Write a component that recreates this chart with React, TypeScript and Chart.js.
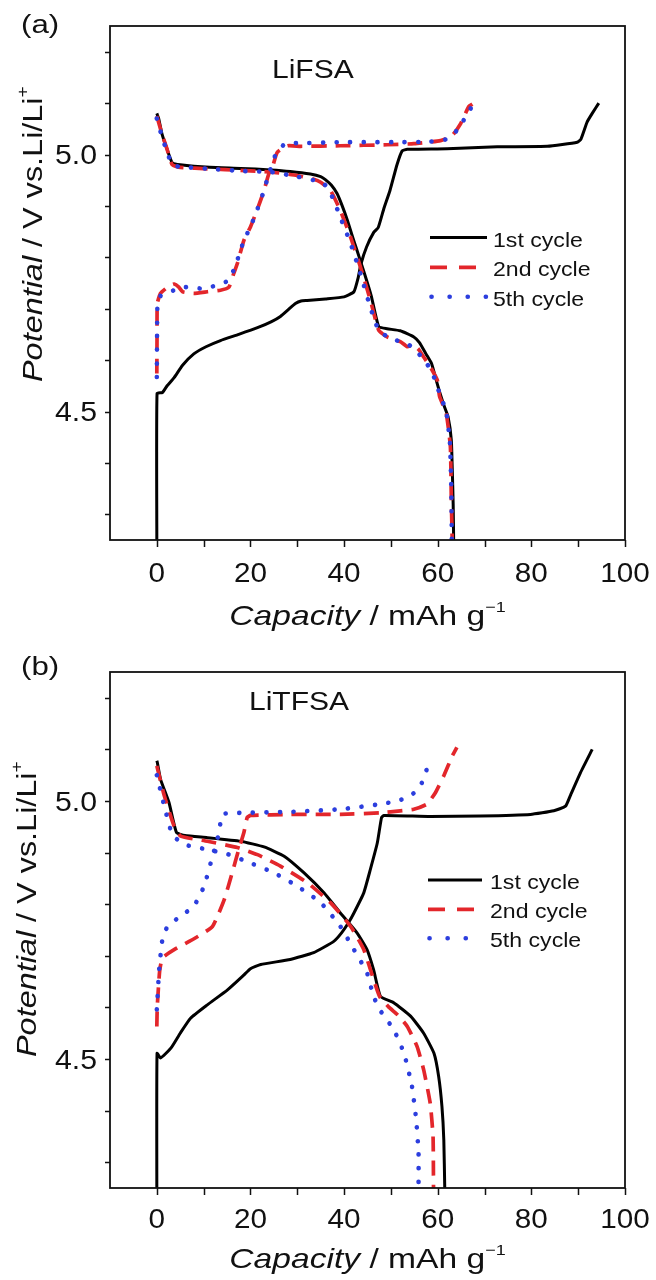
import React, { useEffect, useRef } from "react";
import { Chart, registerables } from "chart.js";

Chart.register(...registerables);

type Pt = [number, number];

// ---- LiFSA electrolyte: [capacity (mAh g-1), potential (V vs. Li/Li+)] ----
const fsaCharge1st: Pt[] = [
  [0, 4.25], [0.05, 4.535], [1.2, 4.537], [2.2, 4.55], [3.7, 4.566], [5.5, 4.59], [7.9, 4.612],
  [10.5, 4.626], [13.6, 4.638], [17.5, 4.65], [21.5, 4.663], [24.5, 4.675], [26.4, 4.685],
  [28.3, 4.7], [29.6, 4.71], [30.8, 4.715], [32.1, 4.716], [36, 4.719], [40, 4.723], [42.1, 4.733],
  [43, 4.76], [43.6, 4.787], [44.8, 4.82], [46.3, 4.848], [47.3, 4.858], [48.5, 4.895], [49.8, 4.93],
  [51.3, 4.98], [52.4, 5.007], [53.5, 5.01], [62, 5.011], [72.7, 5.015], [83.4, 5.016], [89.8, 5.024],
  [90.6, 5.03], [91.9, 5.063], [93, 5.08], [94.4, 5.1],
];
const fsaDischarge1st: Pt[] = [
  [0, 5.08], [0.4, 5.07], [1.1, 5.04], [2.2, 5.01], [3.3, 4.984], [5, 4.98], [11.3, 4.975],
  [17.9, 4.973], [24.3, 4.97], [28.5, 4.967], [32.8, 4.962], [35, 4.957], [36, 4.951], [37.3, 4.94],
  [38.5, 4.924], [39.6, 4.9], [40.7, 4.872], [41.8, 4.84], [42.7, 4.815], [44.3, 4.77], [45.8, 4.725],
  [47.4, 4.665], [49.2, 4.661], [52, 4.657], [54.9, 4.645], [56.1, 4.634], [57.5, 4.612], [58.7, 4.593],
  [59.5, 4.567], [60.5, 4.535], [61.4, 4.51], [62.2, 4.49], [62.9, 4.445], [63.1, 4.39], [63.3, 4.32],
  [63.4, 4.25],
];
const fsaCharge2nd: Pt[] = [
  [0, 4.574], [0.05, 4.65], [0.1, 4.71], [0.8, 4.73], [1.9, 4.739], [2.8, 4.745], [3.7, 4.748],
  [4.7, 4.742], [5.5, 4.733], [7.9, 4.73], [10.8, 4.733], [13.6, 4.736], [15.4, 4.742], [16.3, 4.765],
  [17.2, 4.788], [18.6, 4.833], [20, 4.859], [21.5, 4.894], [22.9, 4.93], [23.9, 4.962], [24.7, 4.975],
  [25.7, 5.004], [27.9, 5.017], [30.7, 5.016], [39.2, 5.017], [49.2, 5.019], [54.9, 5.021],
  [60.6, 5.027], [63.1, 5.037], [64.9, 5.06], [66.6, 5.093], [67.4, 5.098],
];
const fsaDischarge2nd: Pt[] = [
  [0, 5.075], [1.1, 5.04], [2.2, 5.01], [3.3, 4.98], [5, 4.975], [11.3, 4.972], [17.9, 4.969],
  [24.3, 4.966], [30, 4.959], [33.5, 4.952], [35, 4.946], [37.1, 4.93], [39.2, 4.891], [41.4, 4.839],
  [43.5, 4.781], [45.6, 4.717], [47.4, 4.658], [49.2, 4.645], [52, 4.636], [53.5, 4.626], [54.9, 4.629],
  [56, 4.62], [57, 4.606], [58.4, 4.587], [59.9, 4.561], [60.4, 4.529], [61.8, 4.497], [62.7, 4.432],
  [62.9, 4.328], [63.1, 4.25],
];
const fsaCharge5th: Pt[] = [
  [0, 4.567], [0.05, 4.65], [0.15, 4.707], [0.8, 4.725], [1.9, 4.73], [3.7, 4.736], [5.8, 4.742],
  [10.1, 4.739], [12.9, 4.746], [15.4, 4.755], [16.4, 4.775], [17.4, 4.8], [18.6, 4.833], [20, 4.859],
  [21.5, 4.894], [22.9, 4.93], [23.9, 4.962], [24.8, 4.985], [25.4, 5.001], [27, 5.018], [27.9, 5.022],
  [30.7, 5.022], [39.2, 5.024], [52, 5.024], [58.4, 5.025], [62, 5.03], [64.1, 5.047], [65.9, 5.072],
  [67.4, 5.095],
];
const fsaDischarge5th: Pt[] = [
  [0, 5.07], [1.1, 5.035], [2.2, 5.005], [3.3, 4.98], [5, 4.976], [11.3, 4.972], [17.9, 4.968],
  [24.3, 4.966], [30, 4.957], [33.5, 4.95], [35.7, 4.943], [36.8, 4.93], [37.8, 4.911], [39.2, 4.878],
  [41.4, 4.827], [43.5, 4.768], [45.6, 4.703], [47.4, 4.658], [49.9, 4.642], [53.5, 4.632],
  [55.6, 4.616], [57.7, 4.593], [59.2, 4.567], [60.4, 4.535], [61.8, 4.5], [62.6, 4.44], [62.9, 4.35],
  [63, 4.25],
];

// ---- LiTFSA electrolyte ----
const tfsaCharge1st: Pt[] = [
  [0, 4.25], [0.05, 4.511], [0.8, 4.502], [3, 4.521], [5, 4.55], [7.2, 4.579], [10.8, 4.605],
  [15.1, 4.634], [18.5, 4.662], [20, 4.675], [22.2, 4.683], [28.5, 4.693], [33.5, 4.706], [37.8, 4.728],
  [39.5, 4.745], [41, 4.765], [42.1, 4.783], [44.2, 4.822], [45.6, 4.867], [47.1, 4.919], [48, 4.968],
  [48.5, 4.972], [58.4, 4.97], [69.1, 4.971], [79.8, 4.974], [84.8, 4.981], [87.3, 4.99], [88.3, 5.01],
  [90.5, 5.055], [93, 5.1],
];
const tfsaDischarge1st: Pt[] = [
  [0, 5.078], [0.1, 5.075], [0.8, 5.042], [2.6, 4.997], [4.2, 4.939], [6, 4.933], [10.8, 4.929],
  [17.9, 4.922], [22.9, 4.911], [27.2, 4.893], [31.4, 4.861], [35.7, 4.822], [39.2, 4.783],
  [42.8, 4.744], [44.9, 4.712], [46.3, 4.673], [47.8, 4.621], [50.6, 4.609], [54.2, 4.583], [57, 4.55],
  [59.2, 4.511], [60.2, 4.466], [60.9, 4.408], [61.3, 4.343], [61.5, 4.25],
];
const tfsaCharge2nd: Pt[] = [
  [0, 4.563], [0.1, 4.602], [0.6, 4.67], [1.2, 4.696], [3.7, 4.712], [8.3, 4.735], [11.9, 4.757],
  [14.4, 4.809], [16.1, 4.861], [17.5, 4.906], [18.6, 4.939], [19.3, 4.968], [20, 4.972], [28.5, 4.974],
  [39.2, 4.974], [47.8, 4.977], [52, 4.981], [54.9, 4.984], [57.7, 4.994], [59.5, 5.016], [61.3, 5.049],
  [63.1, 5.087], [64.1, 5.104],
];
const tfsaDischarge2nd: Pt[] = [
  [0, 5.068], [1.6, 5.01], [3.7, 4.951], [5.1, 4.932], [10.8, 4.922], [17.2, 4.91], [21.5, 4.896],
  [26.4, 4.874], [32.1, 4.842], [37.1, 4.803], [41.4, 4.757], [44.2, 4.712], [46.3, 4.654], [47.6, 4.621],
  [49.5, 4.601], [51.5, 4.585], [53.5, 4.563], [55.6, 4.524], [57, 4.479], [58.4, 4.414], [59, 4.35],
  [59.1, 4.25],
];
const tfsaCharge5th: Pt[] = [
  [0, 4.596], [0.5, 4.673], [1.2, 4.732], [2.3, 4.757], [5.1, 4.777], [7.9, 4.796], [10.1, 4.835],
  [11.9, 4.893], [13.3, 4.939], [14, 4.974], [17.9, 4.977], [28.5, 4.979], [39.2, 4.984], [47.8, 4.994],
  [51.3, 5], [54.2, 5.01], [56.3, 5.029], [57.4, 5.055], [58.4, 5.08],
];
const tfsaDischarge5th: Pt[] = [
  [0, 5.05], [1.6, 4.99], [3.3, 4.935], [5.8, 4.916], [10.8, 4.906], [15.1, 4.897], [20, 4.88],
  [25, 4.861], [30, 4.835], [35, 4.803], [39.2, 4.757], [42.1, 4.712], [44.9, 4.667], [46.3, 4.621],
  [47.8, 4.593], [50.6, 4.557], [52.8, 4.511], [54.5, 4.447], [55.4, 4.382], [55.9, 4.317], [55.9, 4.25],
];

// ---- axes ----
const xMin = -10;
const xMax = 100;
const yMin = 4.25;
const yMax = 5.25;
const xTicks = [0, 10, 20, 30, 40, 50, 60, 70, 80, 90, 100];
const xTickLabels = [0, 20, 40, 60, 80, 100];
const yTicks = [4.3, 4.4, 4.5, 4.6, 4.7, 4.8, 4.9, 5.0, 5.1, 5.2];
const yTickLabels = [4.5, 5.0];
const cycleLabels = ["1st cycle", "2nd cycle", "5th cycle"];

const FONT = '"Liberation Sans", Arial, Helvetica, sans-serif';
const INK = "#111111";

const cycleStyles = [
  { color: "#000000", width: 3, dash: [] as number[], cap: "butt", legendDash: [] as number[] },
  { color: "#e3262b", width: 3.7, dash: [15, 9], cap: "butt", legendDash: [17, 12] },
  { color: "#2c3ede", width: 4.6, dash: [0.1, 13.5], cap: "round", legendDash: [0.1, 18] },
];

type Seg = { text: string; font: string; rise?: number };

function drawRich(ctx: CanvasRenderingContext2D, segs: Seg[], x: number, y: number, sx: number, align: "left" | "center" | "right") {
  ctx.save();
  ctx.translate(x, y);
  ctx.scale(sx, 1);
  const widths = segs.map((s) => {
    ctx.font = s.font;
    return ctx.measureText(s.text).width;
  });
  const total = widths.reduce((p, c) => p + c, 0);
  let cx = align === "center" ? -total / 2 : align === "right" ? -total : 0;
  ctx.textAlign = "left";
  ctx.textBaseline = "alphabetic";
  segs.forEach((s, i) => {
    ctx.font = s.font;
    ctx.fillText(s.text, cx, -(s.rise || 0));
    cx += widths[i];
  });
  ctx.restore();
}

type Panel = {
  curves: Pt[][][];
  padTop: number;
  xAxisHeight: number;
  label: string;
  labelBaseline: number;
  salt: string;
  saltX: number;
  saltBaseline: number;
  legendX: number;
  legendX2: number;
  legendTextX: number;
  legendY: number[];
  yTitleX: number;
  yTitleStart: number;
  xTitleBaseline: number;
  tickBaselineOffset: number;
};

const panelA: Panel = {
  curves: [
    [fsaCharge1st, fsaDischarge1st],
    [fsaCharge2nd, fsaDischarge2nd],
    [fsaCharge5th, fsaDischarge5th],
  ],
  padTop: 26,
  xAxisHeight: 100,
  label: "(a)",
  labelBaseline: 32.5,
  salt: "LiFSA",
  saltX: 272,
  saltBaseline: 78,
  legendX: 430,
  legendX2: 487,
  legendTextX: 493,
  legendY: [237.5, 267.3, 296.7],
  yTitleX: 42,
  yTitleStart: 382,
  xTitleBaseline: 625,
  tickBaselineOffset: 42,
};

const panelB: Panel = {
  curves: [
    [tfsaCharge1st, tfsaDischarge1st],
    [tfsaCharge2nd, tfsaDischarge2nd],
    [tfsaCharge5th, tfsaDischarge5th],
  ],
  padTop: 32,
  xAxisHeight: 92,
  label: "(b)",
  labelBaseline: 34.5,
  salt: "LiTFSA",
  saltX: 249,
  saltBaseline: 70,
  legendX: 428,
  legendX2: 482,
  legendTextX: 490,
  legendY: [240, 269.3, 298.3],
  yTitleX: 36,
  yTitleStart: 417,
  xTitleBaseline: 628,
  tickBaselineOffset: 40,
};

function decorPlugin(p: Panel) {
  return {
    id: "panelDecor",
    afterDraw(chart: any) {
      const ctx: CanvasRenderingContext2D = chart.ctx;
      const a = chart.chartArea;
      const xs = chart.scales.x;
      const ys = chart.scales.y;
      ctx.save();
      // frame
      ctx.strokeStyle = INK;
      ctx.lineWidth = 1.8;
      ctx.setLineDash([]);
      ctx.strokeRect(a.left, a.top, a.right - a.left, a.bottom - a.top);
      // tick marks
      ctx.lineWidth = 1.5;
      ctx.beginPath();
      xTicks.forEach((v) => {
        const px = Math.round(xs.getPixelForValue(v)) + 0.5;
        ctx.moveTo(px, a.bottom);
        ctx.lineTo(px, a.bottom + 7);
      });
      yTicks.forEach((v) => {
        const py = Math.round(ys.getPixelForValue(v)) + 0.5;
        ctx.moveTo(a.left, py);
        ctx.lineTo(a.left - 5, py);
      });
      ctx.stroke();
      ctx.fillStyle = INK;
      // tick labels
      const tickFont = `27px ${FONT}`;
      xTickLabels.forEach((v) => {
        drawRich(ctx, [{ text: String(v), font: tickFont }], xs.getPixelForValue(v), a.bottom + p.tickBaselineOffset, 1.1, "center");
      });
      yTickLabels.forEach((v) => {
        drawRich(ctx, [{ text: v.toFixed(1), font: tickFont }], a.left - 13, ys.getPixelForValue(v) + 9.5, 1.12, "right");
      });
      // axis titles
      const titleFont = `28px ${FONT}`;
      drawRich(
        ctx,
        [
          { text: "Capacity", font: `italic ${titleFont}` },
          { text: " / mAh g", font: titleFont },
          { text: "\u22121", font: `15px ${FONT}`, rise: 13 },
        ],
        (a.left + a.right) / 2,
        p.xTitleBaseline,
        1.2,
        "center"
      );
      ctx.save();
      ctx.translate(p.yTitleX, p.yTitleStart);
      ctx.rotate(-Math.PI / 2);
      const yFont = `27px ${FONT}`;
      drawRich(
        ctx,
        [
          { text: "Potential", font: `italic ${yFont}` },
          { text: " / V vs.Li/Li", font: yFont },
          { text: "+", font: `16px ${FONT}`, rise: 14 },
        ],
        0,
        0,
        1.2,
        "left"
      );
      ctx.restore();
      // panel label and salt name
      drawRich(ctx, [{ text: p.label, font: `26px ${FONT}` }], 21, p.labelBaseline, 1.2, "left");
      drawRich(ctx, [{ text: p.salt, font: `25px ${FONT}` }], p.saltX, p.saltBaseline, 1.2, "left");
      // legend
      cycleStyles.forEach((st, i) => {
        const ly = p.legendY[i];
        ctx.save();
        ctx.strokeStyle = st.color;
        ctx.lineWidth = st.width;
        ctx.lineCap = st.cap as CanvasLineCap;
        ctx.setLineDash(st.legendDash);
        ctx.beginPath();
        ctx.moveTo(p.legendX + (st.cap === "round" ? 1.5 : 0), ly);
        ctx.lineTo(p.legendX2, ly);
        ctx.stroke();
        ctx.restore();
        drawRich(ctx, [{ text: cycleLabels[i], font: `21px ${FONT}` }], p.legendTextX, ly + 9, 1.1, "left");
      });
      ctx.restore();
    },
  };
}

function makeChart(canvas: HTMLCanvasElement, p: Panel) {
  const datasets: any[] = [];
  p.curves.forEach((pair, i) => {
    const st = cycleStyles[i];
    pair.forEach((curve, k) => {
      datasets.push({
        label: k === 0 ? cycleLabels[i] : `${cycleLabels[i]} (discharge)`,
        data: curve.map(([x, y]) => ({ x, y })),
        showLine: true,
        borderColor: st.color,
        backgroundColor: st.color,
        borderWidth: st.width,
        borderDash: st.dash,
        borderCapStyle: st.cap,
        borderJoinStyle: "round",
        pointRadius: 0,
        pointHoverRadius: 0,
        tension: 0.15,
        fill: false,
        order: 3 - i,
      });
    });
  });
  return new Chart(canvas, {
    type: "scatter",
    data: { datasets },
    options: {
      responsive: false,
      maintainAspectRatio: false,
      animation: false,
      devicePixelRatio: 1,
      events: [],
      layout: { padding: { left: 0, right: 31, top: p.padTop, bottom: 0 } },
      plugins: { legend: { display: false }, tooltip: { enabled: false }, title: { display: false } },
      scales: {
        x: {
          type: "linear",
          min: xMin,
          max: xMax,
          ticks: { display: false },
          grid: { display: false },
          border: { display: false },
          afterFit: (s: any) => {
            s.height = p.xAxisHeight;
          },
        },
        y: {
          type: "linear",
          min: yMin,
          max: yMax,
          ticks: { display: false },
          grid: { display: false },
          border: { display: false },
          afterFit: (s: any) => {
            s.width = 110;
          },
        },
      },
    } as any,
    plugins: [decorPlugin(p)],
  });
}

export default function App() {
  const refA = useRef<HTMLCanvasElement>(null);
  const refB = useRef<HTMLCanvasElement>(null);
  useEffect(() => {
    const charts = [makeChart(refA.current!, panelA), makeChart(refB.current!, panelB)];
    return () => charts.forEach((c) => c.destroy());
  }, []);
  return (
    <div style={{ position: "absolute", left: 0, top: 0, width: 656, height: 1280, background: "#ffffff" }}>
      <canvas ref={refA} width={656} height={640} style={{ position: "absolute", left: 0, top: 0, width: 656, height: 640 }} />
      <canvas ref={refB} width={656} height={640} style={{ position: "absolute", left: 0, top: 640, width: 656, height: 640 }} />
    </div>
  );
}
